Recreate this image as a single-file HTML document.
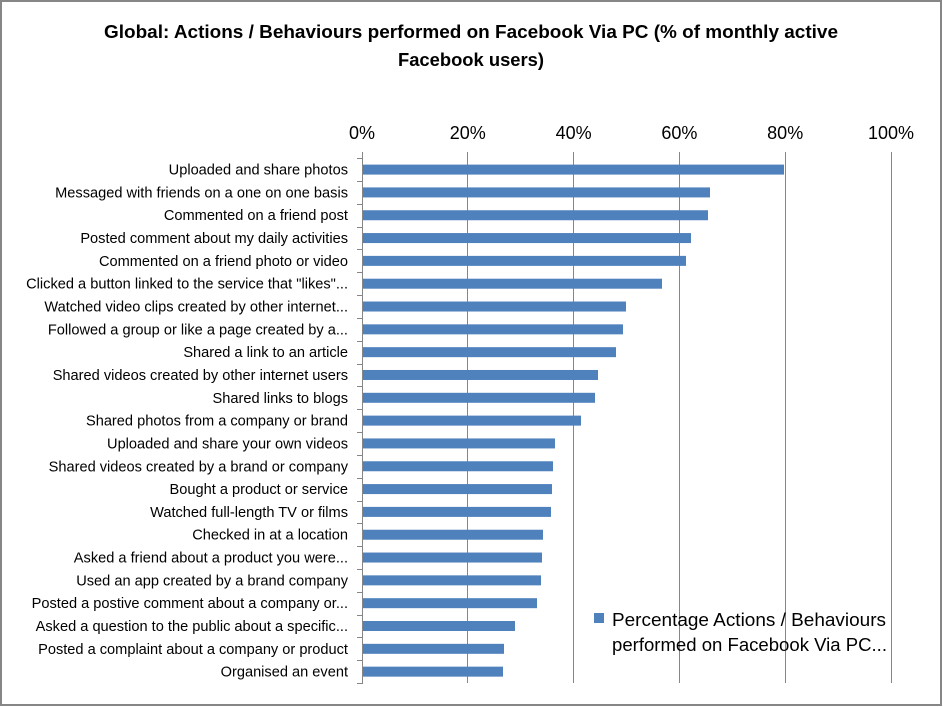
<!DOCTYPE html>
<html><head><meta charset="utf-8"><style>
html,body{margin:0;padding:0;background:#fff;}
svg{display:block;font-family:"Liberation Sans",Arial,sans-serif;}
</style></head><body>
<svg width="943" height="707" viewBox="0 0 943 707" xmlns="http://www.w3.org/2000/svg">
<rect x="1" y="1" width="940" height="704" fill="#fff" stroke="#868686" stroke-width="2"/>
<text x="471" y="38" font-size="18" font-weight="bold" text-anchor="middle" textLength="734" lengthAdjust="spacingAndGlyphs">Global: Actions / Behaviours performed on Facebook Via PC (% of monthly active</text>
<text x="471" y="66" font-size="18" font-weight="bold" text-anchor="middle" textLength="146" lengthAdjust="spacingAndGlyphs">Facebook users)</text>
<g font-size="18" fill="#000" text-anchor="middle">
<text x="362" y="139">0%</text><text x="467.8" y="139">20%</text><text x="573.6" y="139">40%</text><text x="679.4" y="139">60%</text><text x="785.2" y="139">80%</text><text x="891" y="139">100%</text>
</g>
<g stroke="#868686" stroke-width="1">
<line x1="467.5" y1="152" x2="467.5" y2="683"/><line x1="573.5" y1="152" x2="573.5" y2="683"/><line x1="679.5" y1="152" x2="679.5" y2="683"/><line x1="785.5" y1="152" x2="785.5" y2="683"/><line x1="891.5" y1="152" x2="891.5" y2="683"/>
<line x1="362.5" y1="152" x2="362.5" y2="684"/>
</g>
<g stroke="#868686" stroke-width="1" id="ticks"></g>
<g fill="#4f81bd" id="bars"></g>
<g font-size="14.6" fill="#000" text-anchor="end" id="labels"></g>
<rect x="594" y="613" width="10" height="10" fill="#4f81bd"/>
<text x="612" y="626" font-size="18.5" textLength="274" lengthAdjust="spacingAndGlyphs">Percentage Actions / Behaviours</text>
<text x="612" y="651" font-size="18.5" textLength="275" lengthAdjust="spacingAndGlyphs">performed on Facebook Via PC...</text>
<script>
var L=["Uploaded and share photos","Messaged with friends on a one on one basis","Commented on a friend post","Posted comment about my daily activities","Commented on a friend photo or video","Clicked a button linked to the service that \"likes\"...","Watched video clips created by other internet...","Followed a group or like a page created by a...","Shared a link to an article","Shared videos created by other internet users","Shared links to blogs","Shared photos from a company or brand","Uploaded and share your own videos","Shared videos created by a brand or company","Bought a product or service","Watched full-length TV or films","Checked in at a location","Asked a friend about a product you were...","Used an app created by a brand company","Posted a postive comment about a company or...","Asked a question to the public about a specific...","Posted a complaint about a company or product","Organised an event"];
var E=[784,710,708,691,686,662,626,623,616,598,595,581,555,553,552,551,543,542,541,537,515,504,503];
var ns="http://www.w3.org/2000/svg",b=document.getElementById("bars"),l=document.getElementById("labels"),t=document.getElementById("ticks");
for(var i=0;i<=23;i++){var y=158.2+22.82*i;var ln=document.createElementNS(ns,"line");ln.setAttribute("x1",357);ln.setAttribute("x2",362);ln.setAttribute("y1",Math.round(y)+.5);ln.setAttribute("y2",Math.round(y)+.5);t.appendChild(ln);}
for(var i=0;i<23;i++){var c=169.6+22.82*i;var r=document.createElementNS(ns,"rect");r.setAttribute("x",363);r.setAttribute("y",c-5);r.setAttribute("width",E[i]-363);r.setAttribute("height",10);b.appendChild(r);
var tx=document.createElementNS(ns,"text");tx.setAttribute("x",348);tx.setAttribute("y",c+5);tx.textContent=L[i];l.appendChild(tx);}
</script>
</svg>
</body></html>
